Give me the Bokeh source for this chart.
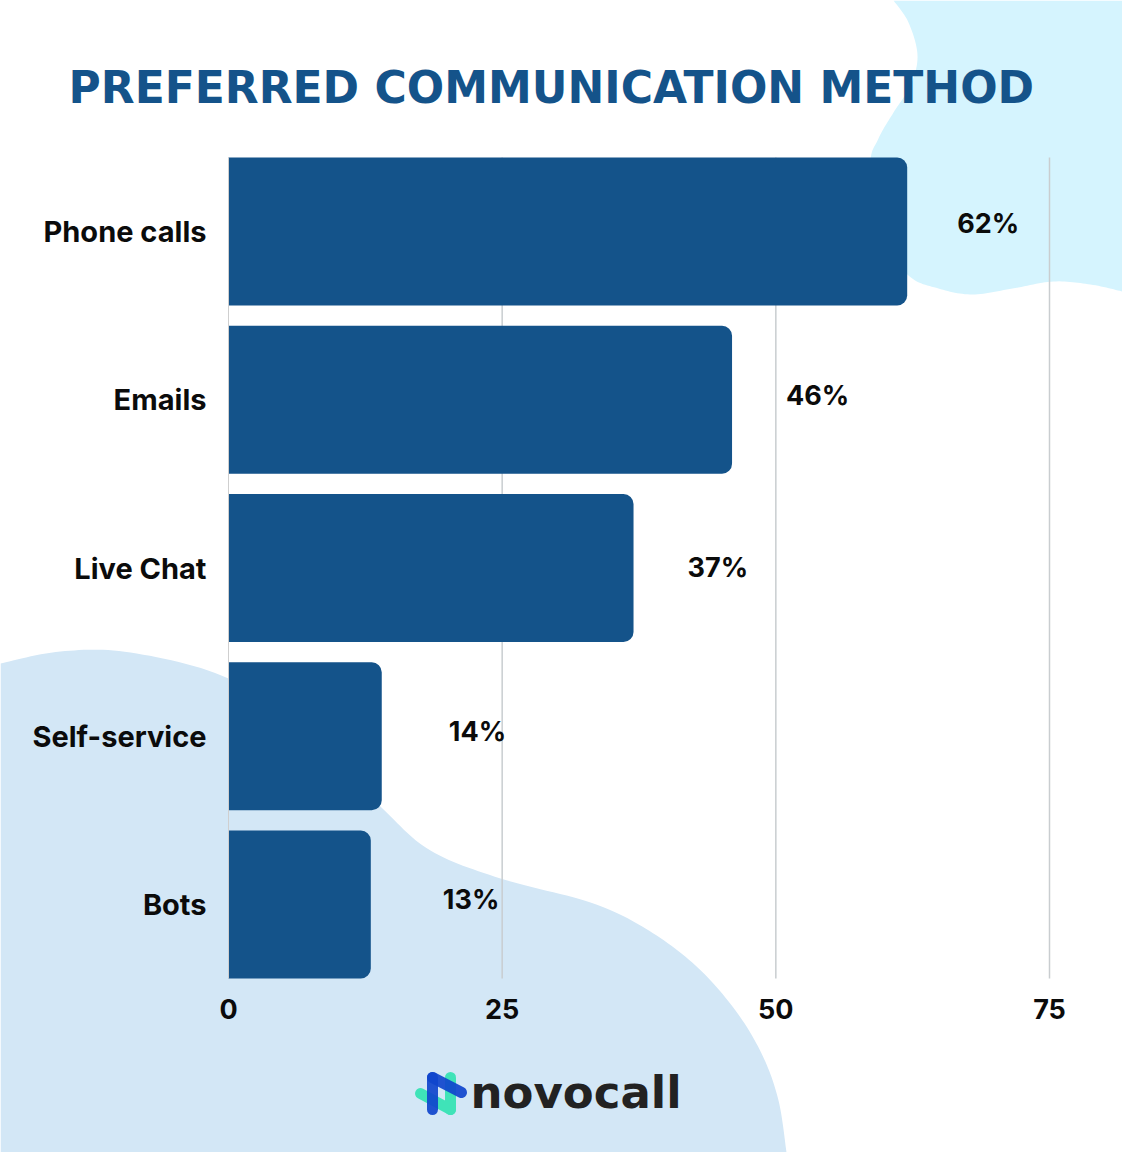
from bokeh.plotting import figure
from bokeh.models import Range1d, FixedTicker, Label, ColumnDataSource
from bokeh.core.properties import value
from bokeh.embed import file_html
from bokeh.resources import INLINE
import numpy as np

categories = ["Phone calls", "Emails", "Live Chat", "Self-service", "Bots"]
percent = [62, 46, 37, 14, 13]
x_ticks = [0, 25, 50, 75]
title_text = "PREFERRED COMMUNICATION METHOD"
brand_text = "novocall"

# styling / layout only
label_dx = [50, 54, 54, 67, 72]
label_dy = [-8, -4, -1, -5, -5]
BAR = "#14538A"
PX_ORIGIN, PX_PER_UNIT = 228.0, 821.0 / 75
PY_ORIGIN, PY_PER_ROW = 231.0, 168.25

def X(px): return (np.asarray(px, float) - PX_ORIGIN) / PX_PER_UNIT
def Y(py): return (np.asarray(py, float) - PY_ORIGIN) / PY_PER_ROW

def smooth(pts, n=14):
    P = np.array(pts, float)
    Q = np.vstack([P[0], P, P[-1]])
    out = []
    for i in range(1, len(Q) - 2):
        p0, p1, p2, p3 = Q[i-1], Q[i], Q[i+1], Q[i+2]
        for t in np.linspace(0, 1, n, endpoint=False):
            out.append(0.5*((2*p1) + (-p0+p2)*t + (2*p0-5*p1+4*p2-p3)*t*t + (-p0+3*p1-3*p2+p3)*t**3))
    out.append(P[-1])
    return np.array(out)

p = figure(width=1122, height=1152, output_backend="svg", toolbar_location=None,
           x_range=Range1d(float(X(0)), float(X(1122))),
           y_range=Range1d(float(Y(1152)), float(Y(0))),
           min_border=0, background_fill_color="white", border_fill_color="white",
           outline_line_color=None)

# background shapes
top_edge = smooth([(893,0),(908,22),(917,55),(910,85),(893,112),(878,138),(870,165),(880,235),(908,275),
                   (938,288),(972,294),(1012,288),(1053,281),(1090,284),(1122,291)])
tx = np.r_[top_edge[:,0], 1122, 893]; ty = np.r_[top_edge[:,1], 0, 0]
p.patch(X(tx), Y(ty), fill_color="#D5F4FE", line_color=None, level="underlay")
bot_edge = smooth([(0,663),(60,651),(130,652),(228,678),(310,735),(382,808),(430,850),(500,878),
                   (590,902),(645,928),(695,965),(735,1010),(762,1055),(778,1100),(786,1152)])
bx = np.r_[0, bot_edge[:,0], 0]; by = np.r_[1152, bot_edge[:,1], 1152]
p.patch(X(bx), Y(by), fill_color="#D3E7F6", line_color=None, level="underlay")

row = list(range(len(categories)))
top_y, bottom_y = float(Y(157)), float(Y(978))

# vertical guide lines, which stop at the axis like the reference's
p.segment(x0=x_ticks[1:], x1=x_ticks[1:], y0=top_y, y1=bottom_y, line_color="#C9CDD0", line_width=1.5)

src = ColumnDataSource(dict(y=row, v=percent, txt=[f"{v}%" for v in percent], dx=label_dx, dy=label_dy))
p.hbar(y="y", right="v", left=0, height=148/PY_PER_ROW, source=src, fill_color=BAR, line_color=None,
       border_radius=(0, 10, 10, 0))
p.text(x="v", y="y", text="txt", x_offset="dx", y_offset="dy", source=src, text_font=value("Inter"),
       text_font_style="bold", text_font_size="27px", text_color="#0b0b0b",
       text_align="left", text_baseline="middle")

# axes live inside the frame so the background shapes can cover the full picture
xa = p.xaxis[0]
xa.fixed_location = bottom_y
xa.ticker = FixedTicker(ticks=x_ticks)
xa.axis_line_color = None
xa.major_tick_line_color = None
xa.minor_tick_line_color = None
xa.major_label_standoff = 14
xa.major_label_text_font = "Inter"
xa.major_label_text_font_style = "bold"
xa.major_label_text_font_size = "27px"
xa.major_label_text_color = "#0b0b0b"

ya = p.yaxis[0]
ya.fixed_location = 0
ya.ticker = FixedTicker(ticks=row)
ya.major_label_overrides = {i: c for i, c in zip(row, categories)}
ya.axis_line_color = "#CFCFCF"
ya.axis_line_width = 1
ya.bounds = (top_y, bottom_y)
ya.major_tick_line_color = None
ya.minor_tick_line_color = None
ya.major_label_standoff = 16
ya.major_label_text_font = "Inter"
ya.major_label_text_font_style = "bold"
ya.major_label_text_font_size = "29px"
ya.major_label_text_color = "#0b0b0b"

p.xgrid[0].grid_line_color = None
p.ygrid[0].grid_line_color = None

p.add_layout(Label(x=float(X(68)), y=float(Y(87)), text=title_text, text_font="DejaVu Sans",
                   text_font_style="bold", text_font_size="44px", text_color=BAR,
                   text_align="left", text_baseline="middle"))

# logo
p.line(X([420,450]), Y([1093,1109]), line_color="#3FE3B8", line_width=11, line_cap="round")
p.line(X([450,450]), Y([1077,1109]), line_color="#3FE3B8", line_width=11, line_cap="round")
p.line(X([432,432]), Y([1077,1109]), line_color="#0F45CC", line_width=11, line_cap="round", line_alpha=0.92)
p.line(X([432,461]), Y([1077,1092]), line_color="#0F45CC", line_width=11, line_cap="round", line_alpha=0.92)
p.add_layout(Label(x=float(X(470)), y=float(Y(1092)), text=brand_text, text_font="DejaVu Sans",
                   text_font_style="bold", text_font_size="45px", text_color="#222222",
                   text_align="left", text_baseline="middle"))

open("out.html", "w").write(file_html(p, INLINE))
